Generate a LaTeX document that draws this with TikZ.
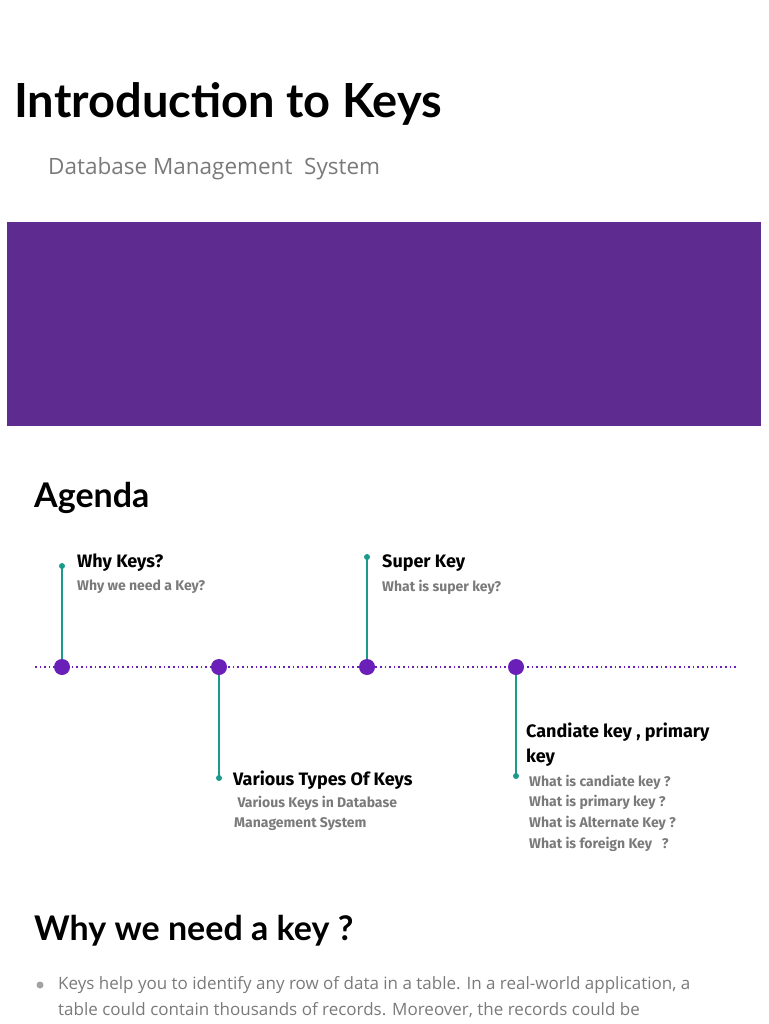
\documentclass[tikz,border=0pt]{standalone}
\usepackage{fontspec}
\setmainfont{Lato}
\newfontfamily\subfont{Open Sans}
\newfontfamily\agfont{Fira Sans}
\usetikzlibrary{positioning}
\definecolor{deeppurple}{HTML}{5E2B91}
\definecolor{dotpurple}{HTML}{6A1FB8}
\definecolor{tealline}{HTML}{1A9A8A}
\definecolor{greytext}{HTML}{7A7A7A}

\begin{document}
\begin{tikzpicture}[x=1pt,y=-1pt,
			plain/.style={inner sep=0, anchor=west},
			heading/.style={plain, font=\bfseries\fontsize{34}{38}\selectfont},
			milestone/.style={circle, fill=dotpurple, inner sep=0, minimum size=16pt},
			tick/.style={circle, fill=tealline, inner sep=0, minimum size=6pt},
			stem/.style={tealline, line width=1.6pt},
			itemhead/.style={plain, font=\agfont\bfseries\fontsize{18}{20}\selectfont},
			itemsub/.style={plain, font=\agfont\bfseries\fontsize{14}{16}\selectfont, text=greytext}]

			\useasboundingbox (0,0) rectangle (768,1024);

			\node[plain, font=\bfseries\fontsize{47}{50}\selectfont] (title) at (14,104) {Introduction to Keys};
			\node[plain, font=\subfont\fontsize{22.5}{26}\selectfont, text=greytext] (subtitle) at (48,169) {Database Management\ \ System};
			\fill[deeppurple] (7,222) rectangle (761,426);

			\node[heading] (agenda) at (34,498) {Agenda};

			% timeline
			\coordinate (lineL) at (35,667);
			\coordinate (lineR) at (737,667);
			\draw[dotpurple, line width=1.6pt, dash pattern=on 1.6pt off 3pt] (lineL) -- (lineR);

			\node[milestone] (m1) at (62,667) {};
			\node[milestone] (m2) at (219,667) {};
			\node[milestone] (m3) at (367,667) {};
			\node[milestone] (m4) at (516,667) {};

			\node[tick] (t1) at (62,566) {};
			\node[tick] (t2) at (219,778) {};
			\node[tick] (t3) at (367,557) {};
			\node[tick] (t4) at (516,776) {};
			\foreach \i in {1,...,4}
				\draw[stem] (t\i.center) -- (m\i);

			\node[itemhead] (why) at (77,563) {Why Keys?};
			\node[itemsub] (whysub) at (77,587) {Why we need a Key?};
			\node[itemhead] (super) at (382,563) {Super Key};
			\node[itemsub] (supersub) at (382,587) {What is super key?};
			\node[itemhead] (types) at (233,780) {Various Types Of Keys};
			\node[itemsub] (typessub) at (234,803) {\ Various Keys in Database};
			\node[itemsub] (typessubb) at (234,824) {Management System};
			\node[itemhead] (cand) at (526,732) {Candiate key , primary};
			\node[itemhead] (candb) at (526,758) {key};
			\node[itemsub] (q1) at (529,782) {What is candiate key ?};
			\node[itemsub] (q2) at (529,802) {What is primary key ?};
			\node[itemsub] (q3) at (529,823) {What is Alternate Key ?};
			\node[itemsub] (q4) at (529,844) {What is foreign Key\ \ \ ?};

			\node[heading] (need) at (34,931) {Why we need a key ?};
			\fill[greytext!70] (40,985) circle (3.5pt);
			\node[plain, font=\subfont\fontsize{17}{20}\selectfont, text=greytext] (para) at (58,985) {Keys help you to identify any row of data in a table. In a real-world application, a};
			\node[plain, font=\subfont\fontsize{17}{20}\selectfont, text=greytext] (parab) at (58,1010) {table could contain thousands of records. Moreover, the records could be};
\end{tikzpicture}
\end{document}
